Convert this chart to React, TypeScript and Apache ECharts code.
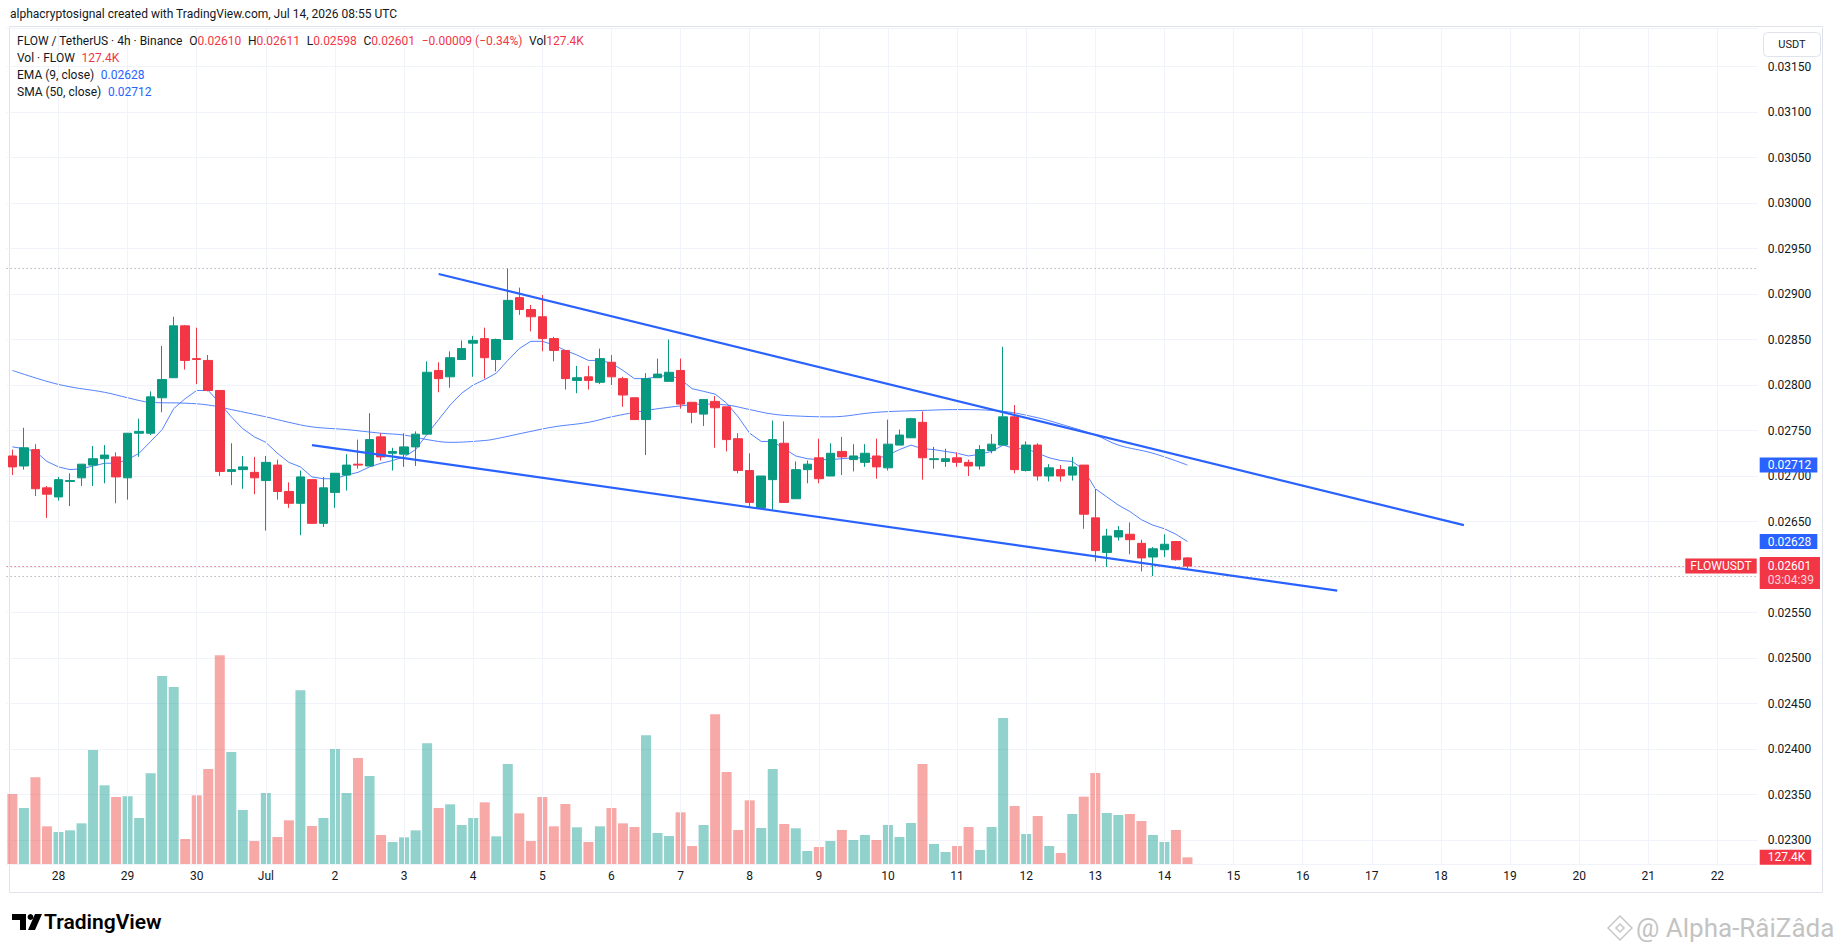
import React, { useEffect, useRef } from 'react';
import * as echarts from 'echarts';

// ---------- data ----------
const DAY_LABELS = ['28', '29', '30', 'Jul', '2', '3', '4', '5', '6', '7', '8', '9', '10', '11', '12', '13', '14', '15', '16', '17', '18', '19', '20', '21', '22'];
const HOURS = ['00:00', '04:00', '08:00', '12:00', '16:00', '20:00'];
const LEAD_SLOTS = ['27 08:00', '27 12:00', '27 16:00', '27 20:00'];
const SLOT_COUNT = 152;

const OPEN = [0.02722, 0.02711, 0.02729, 0.02687, 0.02677, 0.02694, 0.02698, 0.02712, 0.02719, 0.02721,
  0.02698, 0.02747, 0.02747, 0.02786, 0.02808, 0.02865, 0.02829, 0.02827, 0.02794, 0.02705,
  0.02707, 0.02704, 0.02695, 0.02712, 0.02683, 0.02670, 0.02696, 0.02648, 0.02682, 0.02701,
  0.02713, 0.02711, 0.02743, 0.02725, 0.02724, 0.02732, 0.02746, 0.02816, 0.02809, 0.02828,
  0.02846, 0.02851, 0.02828, 0.02850, 0.02896, 0.02883, 0.02875, 0.02851, 0.02838, 0.02805,
  0.02809, 0.02803, 0.02825, 0.02807, 0.02786, 0.02762, 0.02808, 0.02804, 0.02816, 0.02781,
  0.02768, 0.02782, 0.02776, 0.02741, 0.02706, 0.02665, 0.02696, 0.02736, 0.02675, 0.02707,
  0.02720, 0.02700, 0.02727, 0.02718, 0.02715, 0.02722, 0.02709, 0.02734, 0.02742, 0.02759,
  0.02718, 0.02716, 0.02720, 0.02715, 0.02711, 0.02728, 0.02734, 0.02765, 0.02706, 0.02734,
  0.02700, 0.02707, 0.02701, 0.02712, 0.02654, 0.02616, 0.02633, 0.02636, 0.02626, 0.02611,
  0.02619, 0.02628, 0.02610];
const HIGH = [0.02729, 0.02753, 0.02735, 0.02689, 0.02699, 0.02703, 0.02713, 0.02733, 0.02734, 0.02726,
  0.02747, 0.02763, 0.02793, 0.02843, 0.02875, 0.02866, 0.02863, 0.02833, 0.02794, 0.02736,
  0.02722, 0.02721, 0.02722, 0.02718, 0.02693, 0.02706, 0.02696, 0.02699, 0.02703, 0.02724,
  0.02740, 0.02769, 0.02747, 0.02731, 0.02747, 0.02749, 0.02826, 0.02825, 0.02837, 0.02849,
  0.02854, 0.02863, 0.02851, 0.02928, 0.02907, 0.02888, 0.02899, 0.02853, 0.02838, 0.02821,
  0.02821, 0.02840, 0.02833, 0.02809, 0.02786, 0.02813, 0.02829, 0.02850, 0.02829, 0.02781,
  0.02784, 0.02788, 0.02776, 0.02747, 0.02725, 0.02700, 0.02761, 0.02760, 0.02716, 0.02717,
  0.02741, 0.02736, 0.02743, 0.02735, 0.02735, 0.02741, 0.02762, 0.02751, 0.02764, 0.02771,
  0.02732, 0.02730, 0.02726, 0.02718, 0.02734, 0.02746, 0.02842, 0.02778, 0.02738, 0.02736,
  0.02713, 0.02712, 0.02721, 0.02712, 0.02686, 0.02642, 0.02645, 0.02649, 0.02630, 0.02622,
  0.02636, 0.02628, 0.02611];
const LOW = [0.02701, 0.02707, 0.02678, 0.02654, 0.02673, 0.02667, 0.02689, 0.02689, 0.02692, 0.02670,
  0.02674, 0.02721, 0.02745, 0.02770, 0.02808, 0.02817, 0.02801, 0.02793, 0.02700, 0.02690,
  0.02686, 0.02680, 0.02640, 0.02674, 0.02665, 0.02635, 0.02648, 0.02644, 0.02665, 0.02684,
  0.02708, 0.02711, 0.02717, 0.02706, 0.02710, 0.02711, 0.02746, 0.02792, 0.02797, 0.02828,
  0.02809, 0.02807, 0.02815, 0.02850, 0.02877, 0.02859, 0.02837, 0.02826, 0.02795, 0.02791,
  0.02795, 0.02801, 0.02800, 0.02776, 0.02762, 0.02723, 0.02808, 0.02804, 0.02774, 0.02758,
  0.02755, 0.02731, 0.02727, 0.02703, 0.02665, 0.02665, 0.02663, 0.02671, 0.02675, 0.02692,
  0.02692, 0.02700, 0.02701, 0.02705, 0.02710, 0.02697, 0.02706, 0.02734, 0.02742, 0.02696,
  0.02708, 0.02710, 0.02710, 0.02700, 0.02707, 0.02725, 0.02734, 0.02703, 0.02705, 0.02695,
  0.02694, 0.02694, 0.02695, 0.02642, 0.02606, 0.02600, 0.02629, 0.02614, 0.02595, 0.02590,
  0.02611, 0.02607, 0.02598];
const CLOSE = [0.02710, 0.02731, 0.02686, 0.02680, 0.02696, 0.02695, 0.02713, 0.02719, 0.02723, 0.02699,
  0.02747, 0.02749, 0.02787, 0.02806, 0.02865, 0.02827, 0.02828, 0.02794, 0.02705, 0.02707,
  0.02710, 0.02698, 0.02715, 0.02683, 0.02670, 0.02699, 0.02648, 0.02687, 0.02703, 0.02712,
  0.02712, 0.02740, 0.02721, 0.02727, 0.02732, 0.02746, 0.02814, 0.02807, 0.02830, 0.02840,
  0.02849, 0.02830, 0.02850, 0.02893, 0.02883, 0.02875, 0.02851, 0.02838, 0.02807, 0.02808,
  0.02805, 0.02829, 0.02809, 0.02789, 0.02762, 0.02807, 0.02812, 0.02814, 0.02779, 0.02770,
  0.02784, 0.02775, 0.02740, 0.02706, 0.02671, 0.02700, 0.02740, 0.02671, 0.02707, 0.02713,
  0.02697, 0.02725, 0.02721, 0.02722, 0.02725, 0.02710, 0.02735, 0.02745, 0.02763, 0.02720,
  0.02719, 0.02719, 0.02715, 0.02711, 0.02729, 0.02735, 0.02765, 0.02707, 0.02734, 0.02700,
  0.02709, 0.02700, 0.02710, 0.02658, 0.02618, 0.02634, 0.02640, 0.02630, 0.02610, 0.02620,
  0.02625, 0.02608, 0.02601];
const VOLUME_K = [1340, 1072, 1659, 721, 612, 644, 778, 2182, 1506, 1282,
  1295, 880, 1735, 3598, 3388, 478, 1314, 1818, 3994, 2144,
  1034, 440, 1359, 517, 836, 3324, 727, 880, 2201, 1359,
  2029, 1684, 555, 421, 510, 644, 2310, 1072, 1142, 746,
  880, 1180, 530, 1914, 970, 440, 1282, 721, 1148, 702,
  421, 721, 1072, 778, 708, 2463, 593, 536, 989, 345,
  746, 2865, 1761, 651, 1219, 689, 1818, 766, 683, 249,
  325, 440, 651, 459, 555, 459, 746, 517, 785, 1914,
  383, 230, 345, 708, 268, 708, 2794, 1110, 574, 919,
  345, 211, 957, 1289, 1742, 976, 938, 957, 823, 555,
  421, 651, 127.4];
const EMA9 = [0.02732, 0.02730, 0.02727, 0.02716, 0.02710, 0.02707, 0.02708, 0.02711, 0.02714, 0.02714,
  0.02718, 0.02725, 0.02738, 0.02751, 0.02774, 0.02785, 0.02794, 0.02794, 0.02780, 0.02765,
  0.02752, 0.02743, 0.02737, 0.02725, 0.02715, 0.02710, 0.02699, 0.02697, 0.02697, 0.02701,
  0.02704, 0.02710, 0.02714, 0.02717, 0.02721, 0.02729, 0.02746, 0.02762, 0.02778, 0.02791,
  0.02800, 0.02806, 0.02813, 0.02827, 0.02840, 0.02848, 0.02848, 0.02844, 0.02838, 0.02833,
  0.02827, 0.02827, 0.02824, 0.02816, 0.02807, 0.02807, 0.02809, 0.02811, 0.02806, 0.02796,
  0.02793, 0.02790, 0.02780, 0.02765, 0.02747, 0.02738, 0.02738, 0.02730, 0.02722, 0.02719,
  0.02718, 0.02718, 0.02719, 0.02720, 0.02720, 0.02719, 0.02723, 0.02729, 0.02734, 0.02730,
  0.02729, 0.02727, 0.02725, 0.02722, 0.02724, 0.02727, 0.02734, 0.02730, 0.02730, 0.02725,
  0.02720, 0.02717, 0.02716, 0.02707, 0.02686, 0.02677, 0.02668, 0.02661, 0.02652, 0.02646,
  0.02642, 0.02636, 0.02628];
const SMA50_POINTS = [[0, 0.02816], [3, 0.02804], [5, 0.02798], [8, 0.02792], [10, 0.02786], [12, 0.02781],
  [15, 0.02780], [17, 0.02778], [19, 0.02773], [22, 0.02765], [24, 0.02759], [26, 0.02754], [29, 0.02751],
  [32, 0.02747], [34, 0.02745], [36, 0.02740], [38, 0.02737], [41, 0.02739], [42, 0.02741], [45, 0.02749],
  [47, 0.02754], [50, 0.02759], [52, 0.02765], [55, 0.02772], [58, 0.02777], [60, 0.02779], [62, 0.02778],
  [64, 0.02773], [66, 0.02768], [68, 0.02766], [71, 0.02765], [75, 0.02770], [79, 0.02772], [82, 0.02773],
  [86, 0.02771], [89, 0.02764], [91, 0.02757], [94, 0.02745], [96, 0.02734], [99, 0.02725], [102, 0.02712]];
const UPPER_TREND = [[37, 0.02922], [126, 0.02646]];
const LOWER_TREND = [[26, 0.02734], [115, 0.02574]];
const COUNTDOWN = '03:04:39';

// ---------- style ----------
const UP = '#089981';
const DOWN = '#f23645';
const UP_VOL = 'rgba(38,166,154,0.5)';
const DOWN_VOL = 'rgba(239,83,80,0.5)';
const BLUE = '#2962ff';
const TEXT = '#131722';
const GRID = '#f0f3fa';
const CLEAR = 'rgba(0,0,0,0)';
const FONT = 'Roboto, "Noto Sans", sans-serif';
const PRICE_MIN = 0.0227363;
const PRICE_MAX = 0.0319231;

function fmtSigned(v: number) {
  return (v < 0 ? '\u2212' : '+') + Math.abs(v).toFixed(5);
}

function boxLabel(text: string, bg: string, position: string) {
  return {
    show: true,
    position,
    distance: 2,
    formatter: text,
    color: '#ffffff',
    fontSize: 12,
    fontFamily: FONT,
    backgroundColor: bg,
    padding: [2, 6, 1, 8],
  };
}

export default function App() {
  const ref = useRef<HTMLDivElement>(null);
  useEffect(() => {
    if (!ref.current) return;
    const chart = echarts.init(ref.current, undefined, { renderer: 'svg' });

    const categories: string[] = [...LEAD_SLOTS];
    DAY_LABELS.forEach((d) => HOURS.forEach((h) => categories.push(d + ' ' + h)));
    categories.length = SLOT_COUNT;
    const dayIdx = categories.map((c, i) => (c.endsWith(' 00:00') ? i : -1)).filter((i) => i >= 0);

    const last = CLOSE.length - 1;
    const o = OPEN[last], h = HIGH[last], l = LOW[last], c = CLOSE[last];
    const chg = c - o;
    const pct = (chg / o) * 100;
    const pctStr = (pct < 0 ? '\u2212' : '+') + Math.abs(pct).toFixed(2) + '%';
    const volStr = VOLUME_K[last].toFixed(1) + 'K';
    const maxHigh = Math.max(...HIGH);
    const minLow = Math.min(...LOW);
    const emaLast = EMA9[EMA9.length - 1];
    const smaLast = SMA50_POINTS[SMA50_POINTS.length - 1][1];

    const legendRich = {
      k: { fill: TEXT, fontSize: 12, fontFamily: FONT },
      r: { fill: DOWN, fontSize: 12, fontFamily: FONT },
      b: { fill: BLUE, fontSize: 12, fontFamily: FONT },
    };

    const option: any = {
      animation: false,
      backgroundColor: '#ffffff',
      textStyle: { fontFamily: FONT },
      grid: { left: 6.64, right: 77.3, top: 28, bottom: 87, outerBoundsMode: 'none' },
      xAxis: {
        type: 'category',
        data: categories,
        boundaryGap: true,
        axisLine: { show: false },
        axisTick: { show: false },
        splitLine: { show: false },
        axisLabel: {
          interval: (_i: number, v: string) => v.endsWith(' 00:00'),
          formatter: (v: string) => v.split(' ')[0],
          color: TEXT,
          fontSize: 12,
          margin: 6,
          fontFamily: FONT,
        },
      },
      yAxis: [
        {
          type: 'value',
          position: 'right',
          min: PRICE_MIN,
          max: PRICE_MAX,
          splitNumber: 18,
          axisLine: { show: false },
          axisTick: { show: false },
          axisLabel: {
            // the price tag of the last close hides the tick label right under it
            formatter: (v: number) => (Math.abs(v - c) < 0.0002 ? '' : v.toFixed(5)),
            showMinLabel: false,
            showMaxLabel: false,
            color: TEXT,
            fontSize: 12,
            margin: 10,
            fontFamily: FONT,
          },
          splitLine: { lineStyle: { color: GRID, width: 1 } },
        },
        { type: 'value', min: 0, max: 16000, show: false, splitLine: { show: false } },
      ],
      series: [
        {
          type: 'line',
          data: [],
          z: 0,
          silent: true,
          markLine: {
            silent: true,
            symbol: ['none', 'none'],
            label: { show: false },
            lineStyle: { color: GRID, type: 'solid', width: 1 },
            data: dayIdx.map((i) => ({ xAxis: i })),
          },
        },
        {
          type: 'bar',
          yAxisIndex: 1,
          barWidth: 10,
          z: 1,
          silent: true,
          data: VOLUME_K.map((v, i) => ({
            value: v,
            itemStyle: { color: CLOSE[i] >= OPEN[i] ? UP_VOL : DOWN_VOL },
          })),
        },
        {
          type: 'line',
          yAxisIndex: 1,
          data: [],
          z: 8,
          silent: true,
          markLine: {
            silent: true,
            precision: 6,
            symbol: ['none', 'none'],
            data: [
              { yAxis: VOLUME_K[last], lineStyle: { color: CLEAR, width: 0 }, label: boxLabel(volStr, DOWN, 'end') },
            ],
          },
        },
        {
          type: 'candlestick',
          data: OPEN.map((op, i) => [op, CLOSE[i], LOW[i], HIGH[i]]),
          barWidth: 9,
          z: 5,
          silent: true,
          itemStyle: { color: UP, color0: DOWN, borderColor: UP, borderColor0: DOWN, borderWidth: 1 },
        },
        {
          type: 'line',
          data: SMA50_POINTS,
          symbol: 'none',
          smooth: 0.4,
          z: 4,
          silent: true,
          lineStyle: { color: BLUE, width: 1, opacity: 0.8 },
        },
        {
          type: 'line',
          data: EMA9,
          symbol: 'none',
          z: 4,
          silent: true,
          lineStyle: { color: BLUE, width: 1, opacity: 0.8 },
        },
        {
          type: 'line',
          data: UPPER_TREND,
          symbol: 'none',
          z: 6,
          silent: true,
          lineStyle: { color: BLUE, width: 2.2 },
        },
        {
          type: 'line',
          data: LOWER_TREND,
          symbol: 'none',
          z: 6,
          silent: true,
          lineStyle: { color: BLUE, width: 2.2 },
        },
        {
          type: 'line',
          data: [],
          z: 8,
          silent: true,
          markLine: {
            silent: true,
            precision: 6,
            symbol: ['none', 'none'],
            data: [
              { yAxis: maxHigh, lineStyle: { color: '#9598a1', type: [1, 3], width: 1 }, label: { show: false } },
              { yAxis: minLow, lineStyle: { color: '#9598a1', type: [1, 3], width: 1 }, label: { show: false } },
              { yAxis: smaLast, lineStyle: { color: CLEAR, width: 0 }, label: boxLabel(smaLast.toFixed(5), BLUE, 'end') },
              { yAxis: emaLast, lineStyle: { color: CLEAR, width: 0 }, label: boxLabel(emaLast.toFixed(5), BLUE, 'end') },
              {
                yAxis: c,
                lineStyle: { color: DOWN, type: [1, 3], width: 1 },
                label: {
                  show: true,
                  position: 'end',
                  distance: 2,
                  offset: [0, 7],
                  formatter: '{p|' + c.toFixed(5) + '}\n{t|' + COUNTDOWN + '}',
                  backgroundColor: DOWN,
                  padding: [2, 6, 2, 8],
                  rich: {
                    p: { color: '#ffffff', fontSize: 12, lineHeight: 14, fontFamily: FONT },
                    t: { color: 'rgba(255,255,255,0.8)', fontSize: 12, lineHeight: 14, fontFamily: FONT },
                  },
                },
              },
              {
                yAxis: c,
                lineStyle: { color: CLEAR, width: 0 },
                label: {
                  show: true,
                  position: 'insideEnd',
                  distance: 1,
                  formatter: 'FLOWUSDT',
                  color: '#ffffff',
                  fontSize: 12,
                  fontFamily: FONT,
                  backgroundColor: DOWN,
                  padding: [2, 5, 1, 5],
                },
              },
            ],
          },
        },
      ],
      graphic: [
        {
          type: 'rect', silent: true, z: 0,
          shape: { x: 9.5, y: 26.5, width: 1813, height: 866 },
          style: { fill: 'none', stroke: '#e0e3eb', lineWidth: 1 },
        },
        {
          type: 'text', silent: true, z: 50,
          style: { x: 10, y: 14, text: 'alphacryptosignal created with TradingView.com, Jul 14, 2026 08:55 UTC', fill: TEXT, fontSize: 12, fontFamily: FONT, verticalAlign: 'middle' },
        },
        {
          type: 'text', silent: true, z: 50,
          style: {
            x: 17, y: 41, verticalAlign: 'middle',
            text: '{k|FLOW / TetherUS \u00b7 4h \u00b7 Binance}  {k|O}{r|' + o.toFixed(5) + '}  {k|H}{r|' + h.toFixed(5) + '}  {k|L}{r|' + l.toFixed(5) + '}  {k|C}{r|' + c.toFixed(5) + '}  {r|' + fmtSigned(chg) + ' (' + pctStr + ')}  {k|Vol}{r|' + volStr + '}',
            rich: legendRich,
          },
        },
        {
          type: 'text', silent: true, z: 50,
          style: { x: 17, y: 58, verticalAlign: 'middle', text: '{k|Vol \u00b7 FLOW}  {r|' + volStr + '}', rich: legendRich },
        },
        {
          type: 'text', silent: true, z: 50,
          style: { x: 17, y: 75, verticalAlign: 'middle', text: '{k|EMA (9, close)}  {b|' + emaLast.toFixed(5) + '}', rich: legendRich },
        },
        {
          type: 'text', silent: true, z: 50,
          style: { x: 17, y: 92, verticalAlign: 'middle', text: '{k|SMA (50, close)}  {b|' + smaLast.toFixed(5) + '}', rich: legendRich },
        },
        {
          type: 'rect', silent: true, z: 60,
          shape: { x: 1763.5, y: 32.5, width: 57, height: 24, r: 4 },
          style: { fill: '#ffffff', stroke: '#e0e3eb', lineWidth: 1 },
        },
        {
          type: 'text', silent: true, z: 61,
          style: { x: 1792, y: 44.5, text: 'USDT', fill: TEXT, fontSize: 11, fontFamily: FONT, align: 'center', verticalAlign: 'middle' },
        },
        {
          type: 'group', silent: true, z: 50, x: 12, y: 914,
          children: [
            { type: 'polygon', shape: { points: [[0, 0], [14, 0], [14, 16], [8, 16], [8, 6], [0, 6]] }, style: { fill: '#000000' } },
            { type: 'circle', shape: { cx: 18.5, cy: 3, r: 2.9 }, style: { fill: '#000000' } },
            { type: 'polygon', shape: { points: [[23, 0], [30, 0], [23, 16], [16, 16]] }, style: { fill: '#000000' } },
          ],
        },
        {
          type: 'text', silent: true, z: 50,
          style: { x: 44, y: 922, text: 'TradingView', fill: '#000000', fontSize: 21, fontWeight: 600, fontFamily: FONT, verticalAlign: 'middle' },
        },
        {
          type: 'group', silent: true, z: 50, x: 1620, y: 928,
          children: [
            { type: 'polygon', shape: { points: [[0, -12], [12, 0], [0, 12], [-12, 0]] }, style: { fill: 'none', stroke: '#c8c8c8', lineWidth: 1.5 } },
            { type: 'polygon', shape: { points: [[0, -4], [4, 0], [0, 4], [-4, 0]] }, style: { fill: 'none', stroke: '#c8c8c8', lineWidth: 1.5 } },
          ],
        },
        {
          type: 'text', silent: true, z: 50,
          style: { x: 1636, y: 928, text: '@ Alpha-R\u00e2iZ\u00e2da', fill: '#c3c3c3', fontSize: 26, fontFamily: '"Liberation Sans Narrow", Roboto, sans-serif', verticalAlign: 'middle' },
        },
      ],
    };

    chart.setOption(option);
    return () => chart.dispose();
  }, []);

  return (
    <div
      ref={ref}
      style={{ position: 'fixed', left: 0, top: 0, width: 1835, height: 951, background: '#ffffff' }}
    />
  );
}
